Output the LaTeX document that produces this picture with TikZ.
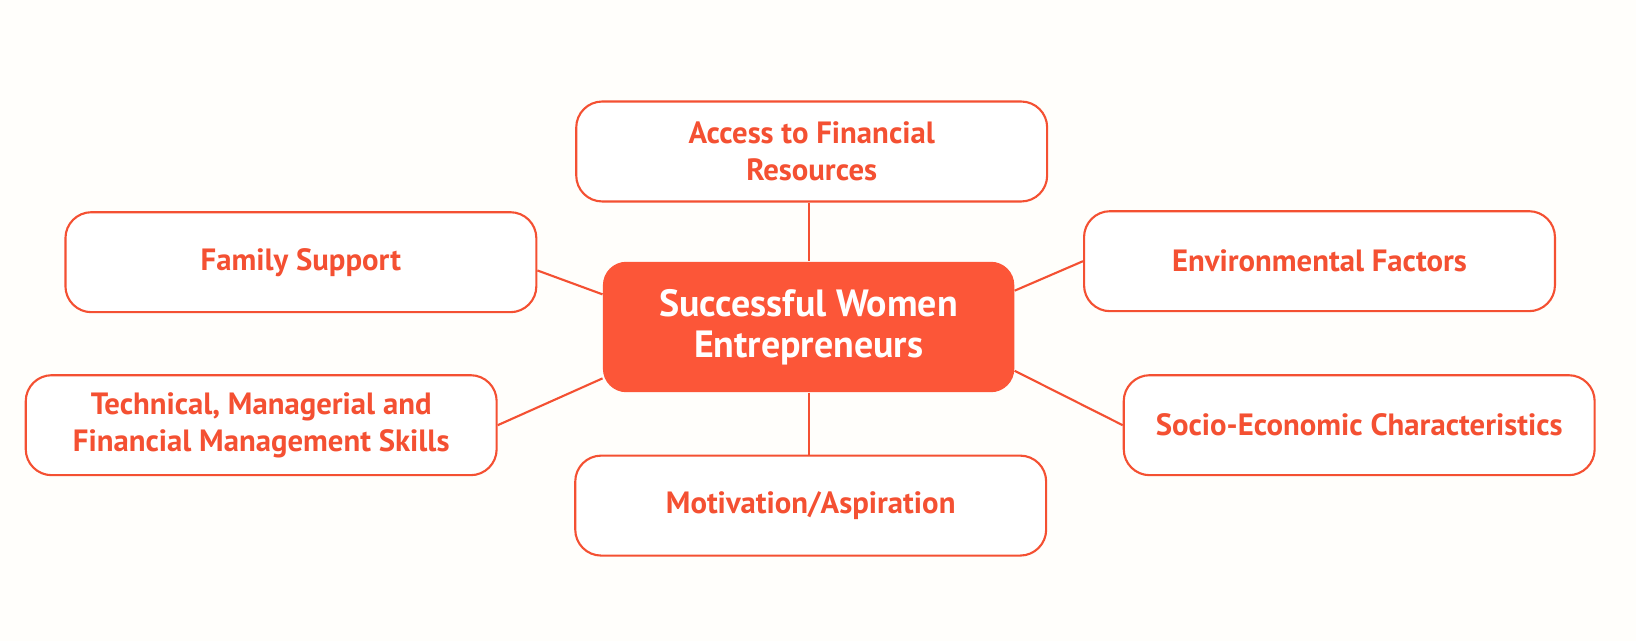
\documentclass[tikz,border=0pt]{standalone}
\usepackage{fontspec}
\setmainfont{PT Sans}
\definecolor{womred}{RGB}{244,80,50}
\definecolor{womfill}{RGB}{252,86,56}
\definecolor{paper}{RGB}{255,254,251}

\begin{document}
\begin{tikzpicture}[x=0.02cm, y=-0.02cm,
  factor/.style={draw=womred, line width=1.2pt, rounded corners=0.52cm, fill=white,
    minimum width=9.42cm, minimum height=2cm, align=center, text=womred,
    font=\fontsize{17.5}{21.2}\selectfont\bfseries},
  hub/.style={fill=womfill, rounded corners=0.47cm, minimum width=8.23cm,
    minimum height=2.61cm, align=center, text=white,
    font=\fontsize{21.6}{23.5}\selectfont\bfseries},
  link/.style={womred, line width=1.2pt}]

\useasboundingbox (0,0) rectangle (1636,641);
\fill[paper] (0,0) rectangle (1636,641);

\node[hub] (core) at (808.6,327) {Successful Women\\Entrepreneurs};

\node[factor] (access) at (811.7,151.5) {Access to Financial\\Resources};
\node[factor] (family) at (300.9,262.2) {Family Support};
\node[factor] (env)    at (1319.5,261.2) {Environmental Factors};
\node[factor] (tech)   at (261.2,425.2) {Technical, Managerial and\\Financial Management Skills};
\node[factor] (socio)  at (1359.2,425.2) {Socio-Economic Characteristics};
\node[factor] (motiv)  at (810.7,505.6) {Motivation/Aspiration};

\draw[link] (access.south -| core.north) -- (core.north);
\draw[link] (family.-2) -- (core.171);
\draw[link] (env.west) -- (core.10);
\draw[link] (tech.east) -- (core.194);
\draw[link] (socio.180) -- (core.-12);
\draw[link] (core.south) -- (motiv.north -| core.south);
\end{tikzpicture}
\end{document}
